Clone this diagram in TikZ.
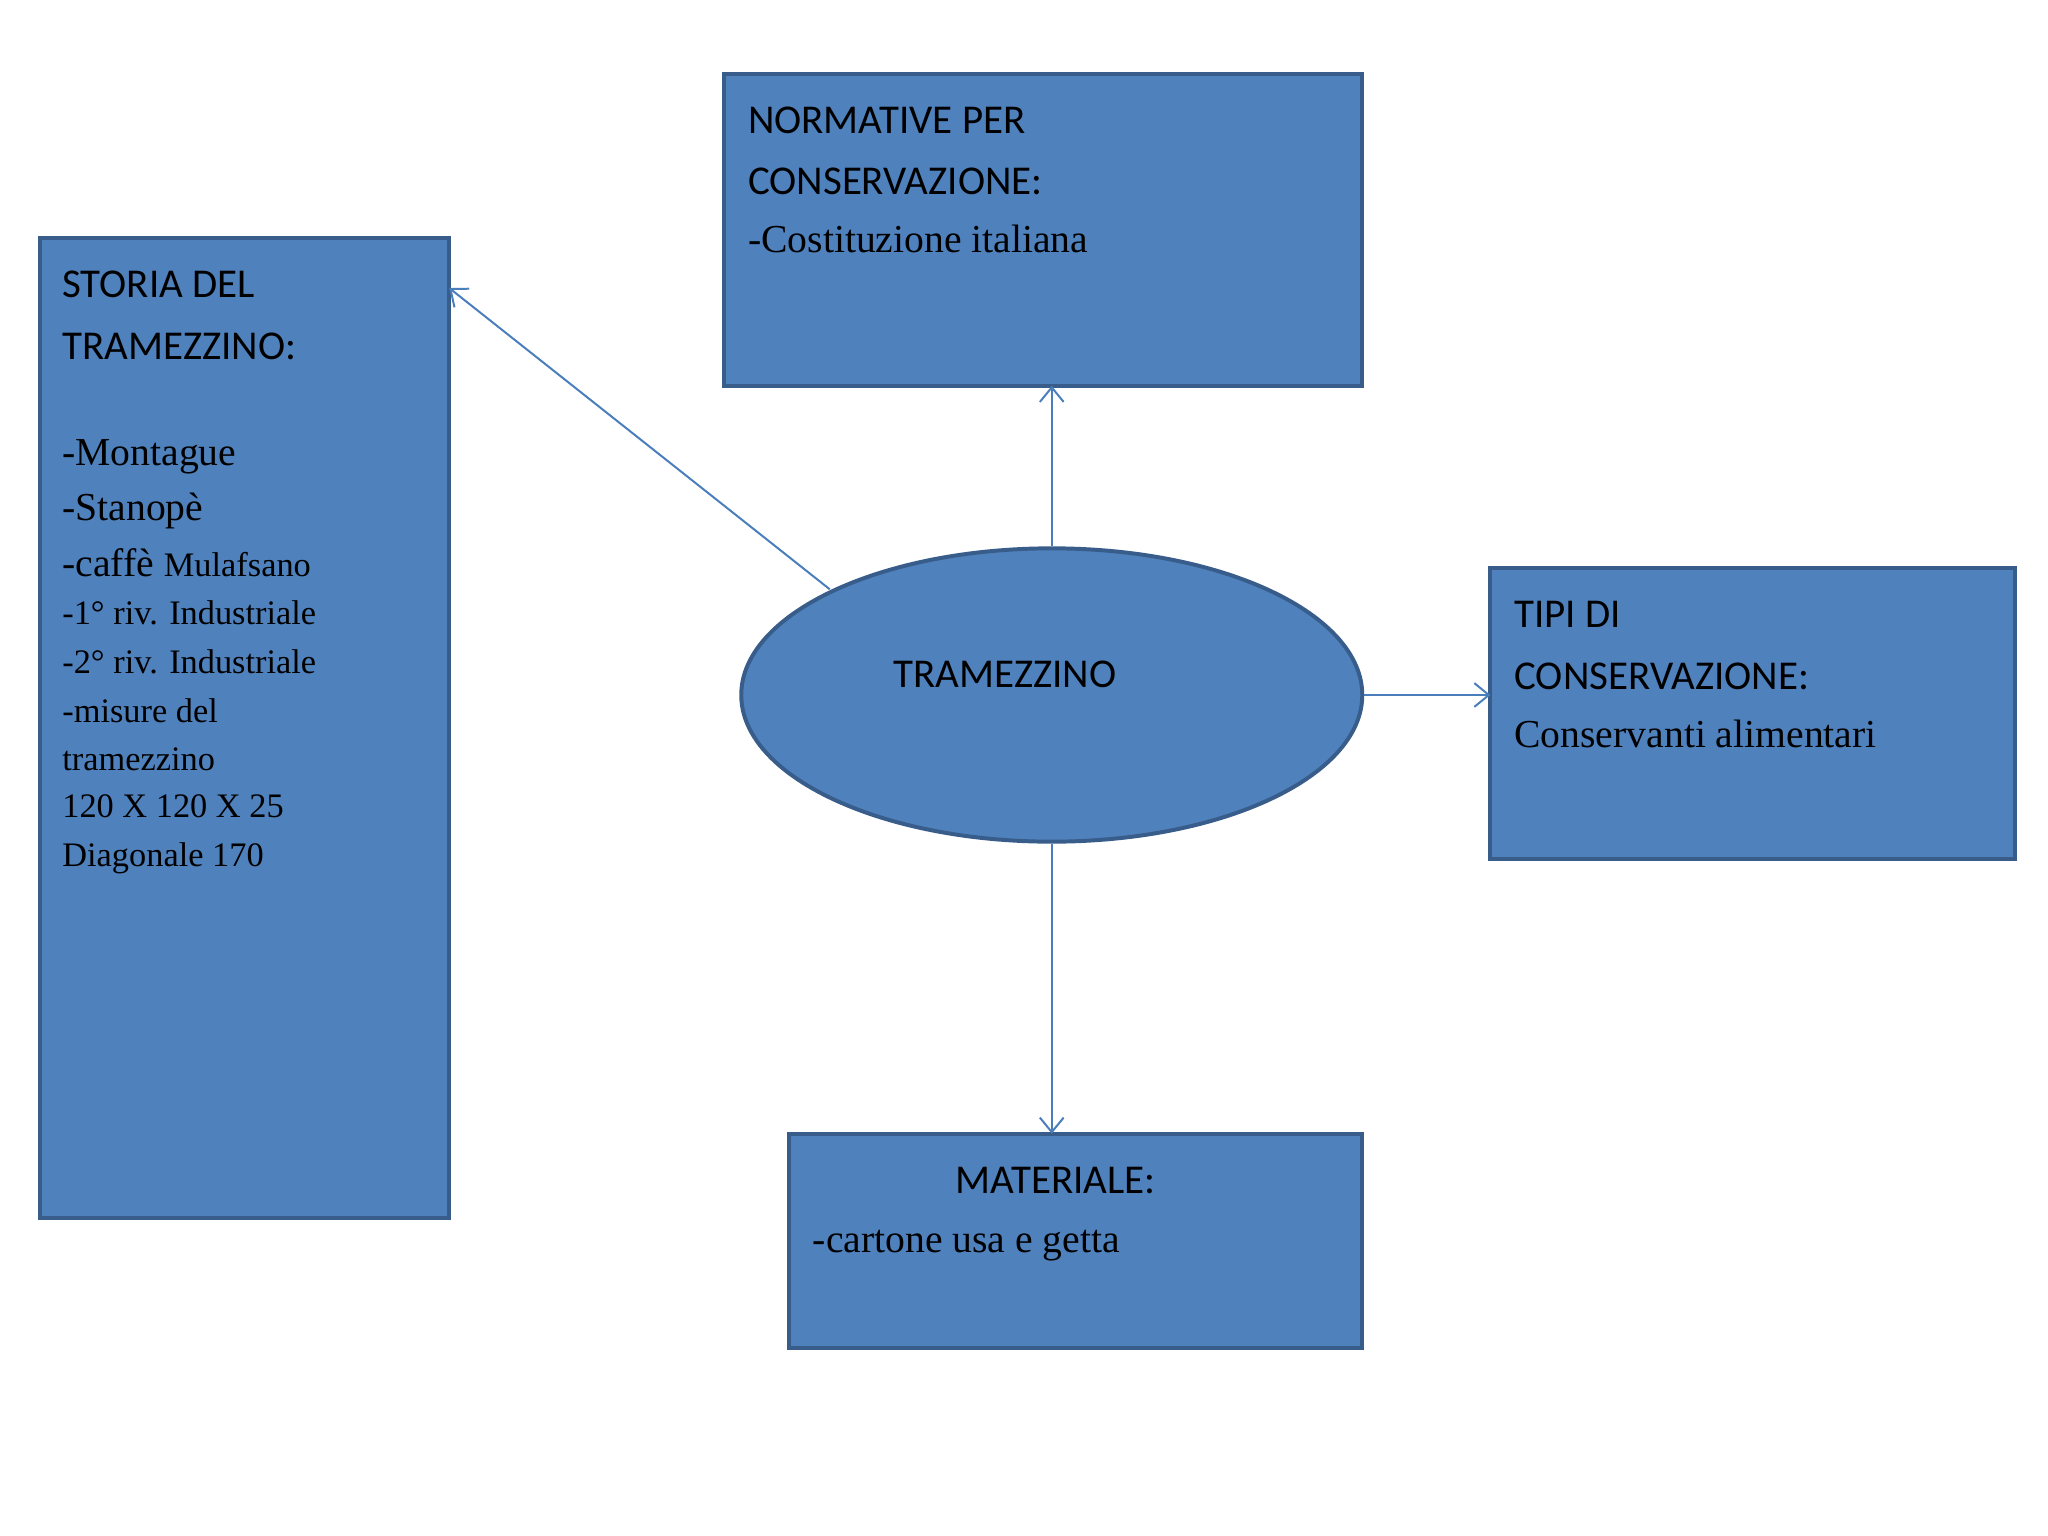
\documentclass[tikz,border=0pt]{standalone}
\usepackage{fontspec}
\setmainfont{Liberation Serif}
\newfontfamily\calfont{Carlito}
\usetikzlibrary{arrows.meta,shapes.geometric}
\definecolor{fillb}{HTML}{4F81BD}
\definecolor{edgeb}{HTML}{385D8A}
\definecolor{arrb}{HTML}{4A7EBB}
\tikzset{
 boxs/.style={draw=edgeb,fill=fillb,line width=3pt},
 conn/.style={draw=arrb,line width=1.5pt,-{Straight Barb[length=11pt,width=18pt,line width=1.5pt]}},
 hd/.style={anchor=base west,inner sep=0pt,font=\calfont\fontsize{31}{31}\selectfont},
 tx/.style={anchor=base west,inner sep=0pt,font=\fontsize{30}{30}\selectfont},
}
\begin{document}
\begin{tikzpicture}[x=1pt,y=-1pt]
\useasboundingbox[fill=white] (0,0) rectangle (1550,1162);
\path[boxs] (30,180) rectangle (340,922);
\path[boxs] (548,56) rectangle (1031,292);
\path[boxs] (1128,430) rectangle (1525,650);
\path[boxs] (597,858) rectangle (1031,1020);
\node[boxs,draw,ellipse,minimum width=470pt,minimum height=222pt,inner sep=0pt] (e) at (796,526) {};
\node[hd] (ce) at (676,520) {TRAMEZZINO};
\coordinate (s) at (340,218); \coordinate (n) at (796,292);
\coordinate (t) at (1128,526); \coordinate (m) at (796,858);
\coordinate (ea) at (628,446);
\draw[conn] (e.north) -- (n);
\draw[conn] (e.south) -- (m);
\draw[conn] (e.east) -- (t);
\draw[conn] (ea) -- (s);
% storia
\node[hd] (s1) at (47,225) {STORIA DEL};
\node[hd] (s2) at (47,272) {TRAMEZZINO:};
\node[tx] (s3) at (47,352) {-Montague};
\node[tx] (s4) at (47,394) {-Stanopè};
\node[tx] (s5) at (47,436) {-caffè {\fontsize{26}{26}\selectfont Mulafsano}};
\node[tx,font=\fontsize{26}{26}\selectfont] (s6) at (47,473) {-1° riv. Industriale};
\node[tx,font=\fontsize{26}{26}\selectfont] (s7) at (47,510) {-2° riv. Industriale};
\node[tx,font=\fontsize{26}{26}\selectfont] (s8) at (47,547) {-misure del};
\node[tx,font=\fontsize{26}{26}\selectfont] (s9) at (47,583) {tramezzino};
\node[tx,font=\fontsize{26}{26}\selectfont] (s10) at (47,619) {120 X 120 X 25};
\node[tx,font=\fontsize{26}{26}\selectfont] (s11) at (47,656) {Diagonale 170};
% normative
\node[hd] (n1) at (566,101) {NORMATIVE PER};
\node[hd] (n2) at (566,147) {CONSERVAZIONE:};
\node[tx] (n3) at (566,191) {-Costituzione italiana};
% tipi
\node[hd] (t1) at (1146,475) {TIPI DI};
\node[hd] (t2) at (1146,522) {CONSERVAZIONE:};
\node[tx] (t3) at (1146,566) {Conservanti alimentari};
% materiale
\node[hd] (m1) at (723,903) {MATERIALE:};
\node[tx] (m2) at (615,948) {-cartone usa e getta};
\end{tikzpicture}
\end{document}
